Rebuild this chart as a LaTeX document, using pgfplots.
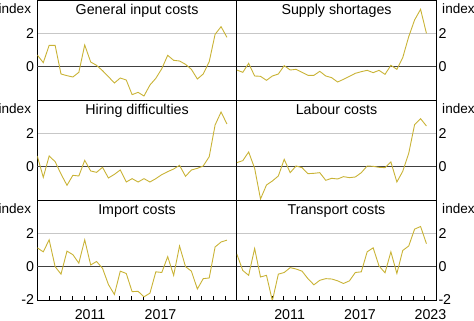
\documentclass[border=0pt]{standalone}
\usepackage{fontspec}
\setmainfont{Liberation Sans}
\usepackage{pgfplots}
\pgfplotsset{compat=1.18}
\usepgfplotslibrary{groupplots}
\usepackage{pgfplotstable}
\usetikzlibrary{calc}
\definecolor{gold}{RGB}{201,179,54}

\pgfplotstableread{
date gic ss hd lc ic tc
2007.00 0.70 -0.20 0.64 0.24 1.13 0.76
2007.51 0.24 -0.34 -0.64 0.36 0.89 -0.23
2008.01 1.28 0.20 0.64 0.88 1.61 -0.52
2008.52 1.28 -0.56 0.30 -0.10 0.00 1.09
2009.02 -0.44 -0.58 -0.44 -1.94 -0.45 -0.62
2009.53 -0.54 -0.82 -1.12 -1.10 0.93 -0.52
2010.03 -0.62 -0.56 -0.52 -0.86 0.72 -2.05
2010.54 -0.34 -0.44 -0.56 -0.56 0.21 -0.45
2011.04 1.30 0.06 0.38 0.44 1.61 -0.35
2011.55 0.28 -0.20 -0.26 -0.36 0.10 -0.06
2012.05 0.08 -0.16 -0.34 0.04 0.31 -0.14
2012.56 -0.24 -0.34 -0.04 -0.06 -0.10 -0.27
2013.06 -0.60 -0.52 -0.68 -0.42 -1.07 -0.72
2013.57 -0.98 -0.52 -0.46 -0.40 -1.67 -1.09
2014.07 -0.68 -0.28 -0.20 -0.36 -0.27 -0.82
2014.58 -0.80 -0.56 -0.92 -0.82 -0.41 -0.72
2015.08 -1.68 -0.66 -0.72 -0.70 -1.50 -0.74
2015.59 -1.54 -0.92 -0.92 -0.74 -1.48 -0.85
2016.09 -1.76 -0.76 -0.72 -0.60 -1.81 -1.01
2016.60 -1.10 -0.58 -0.92 -0.66 -1.59 -0.85
2017.10 -0.70 -0.40 -0.72 -0.62 -0.31 -0.35
2017.61 -0.12 -0.30 -0.48 -0.36 -0.35 -0.31
2018.11 0.68 -0.22 -0.30 0.04 0.60 0.89
2018.62 0.38 -0.36 -0.14 0.02 -0.52 1.13
2019.12 0.34 -0.22 0.08 -0.04 1.24 0.04
2019.63 0.14 -0.46 -0.58 -0.06 0.00 -0.37
2020.13 -0.16 0.08 -0.20 0.28 -0.27 0.89
2020.64 -0.74 -0.16 -0.10 -0.92 -1.34 -0.41
2021.14 -0.44 0.54 0.04 -0.28 -0.72 0.97
2021.65 0.30 1.80 0.60 0.80 -0.68 1.24
2022.15 1.94 2.80 2.50 2.52 1.18 2.25
2022.66 2.40 3.44 3.28 2.88 1.48 2.41
2023.16 1.76 2.00 2.56 2.44 1.59 1.38
}\data

\tikzset{idx/.style={font=\fontsize{13.6}{16}\selectfont}}

\begin{document}
\fontsize{14.3}{16}\selectfont
\begin{tikzpicture}[font=\fontsize{14.3}{16}\selectfont]
\pgfplotsset{
  panel/.style={
    scale only axis, width=199.5bp, height=100bp,
    xmin=2007, xmax=2024, ymin=-2, ymax=4,
    clip mode=individual,
    axis line style={black, line width=0.8bp},
    ymajorgrids, grid style={black!22, line width=0.6bp},
    ytick={2}, yticklabels={2},
    extra y ticks={0}, extra y tick labels={0},
    extra y tick style={ymajorgrids=true, grid style={black!75, line width=0.7bp}},
    major tick length=0pt,
    xtick=\empty,
  },
  bottom/.style={
    xtick={2008,...,2023}, xticklabels={},
    tick align=inside, xtick pos=lower,
    major tick style={black, line width=0.6bp},
    xtick style={/pgfplots/major tick length=4bp},
    extra x ticks={2011.5,2017.5},
    extra x tick labels={2011,2017},
    extra x tick style={xtick style={/pgfplots/major tick length=0pt}, xmajorgrids=false},
    xticklabel style={anchor=north, inner sep=0pt, yshift=-9.3bp},
    ytick={-2,2}, yticklabels={-2,2},
  },
  leftcol/.style={
    yticklabel pos=left,
    yticklabel style={anchor=east, inner sep=0pt, xshift=-3bp},
  },
  rightcol/.style={
    yticklabel pos=right,
    yticklabel style={anchor=west, inner sep=0pt, xshift=2bp},
  },
  ser/.style={gold, line width=0.9bp},
}
\begin{groupplot}[group style={group size=2 by 3, horizontal sep=0pt, vertical sep=0pt}, panel]
\nextgroupplot[leftcol]
\addplot[ser] table[x=date,y=gic]{\data};
\node[anchor=base] at (rel axis cs:0.5,1) [yshift=-15bp] {General input costs};
\node[idx, anchor=base east] at (rel axis cs:0,1) [xshift=-1.3bp, yshift=-13.3bp] {index};
\nextgroupplot[rightcol]
\addplot[ser] table[x=date,y=ss]{\data};
\node[anchor=base] at (rel axis cs:0.5,1) [yshift=-15bp] {Supply shortages};
\node[idx, anchor=base west] at (rel axis cs:1,1) [xshift=1bp, yshift=-13.3bp] {index};
\nextgroupplot[leftcol]
\addplot[ser] table[x=date,y=hd]{\data};
\node[anchor=base] at (rel axis cs:0.5,1) [yshift=-15bp] {Hiring difficulties};
\node[idx, anchor=base east] at (rel axis cs:0,1) [xshift=-1.3bp, yshift=-13.3bp] {index};
\nextgroupplot[rightcol]
\addplot[ser] table[x=date,y=lc]{\data};
\node[anchor=base] at (rel axis cs:0.5,1) [yshift=-15bp] {Labour costs};
\node[idx, anchor=base west] at (rel axis cs:1,1) [xshift=1bp, yshift=-13.3bp] {index};
\nextgroupplot[leftcol, bottom]
\addplot[ser] table[x=date,y=ic]{\data};
\node[anchor=base] at (rel axis cs:0.5,1) [yshift=-15bp] {Import costs};
\node[idx, anchor=base east] at (rel axis cs:0,1) [xshift=-1.3bp, yshift=-13.3bp] {index};
\nextgroupplot[rightcol, bottom, extra x ticks={2011.5,2017.5,2023.5}, extra x tick labels={2011,2017,2023}]
\addplot[ser] table[x=date,y=tc]{\data};
\node[anchor=base] at (rel axis cs:0.5,1) [yshift=-15bp] {Transport costs};
\node[idx, anchor=base west] at (rel axis cs:1,1) [xshift=1bp, yshift=-13.3bp] {index};
\end{groupplot}
\pgfresetboundingbox
\path[use as bounding box] ($(group c1r1.north west)+(-37.3bp,0)$) rectangle ++(474bp,-321bp);
\end{tikzpicture}
\end{document}
